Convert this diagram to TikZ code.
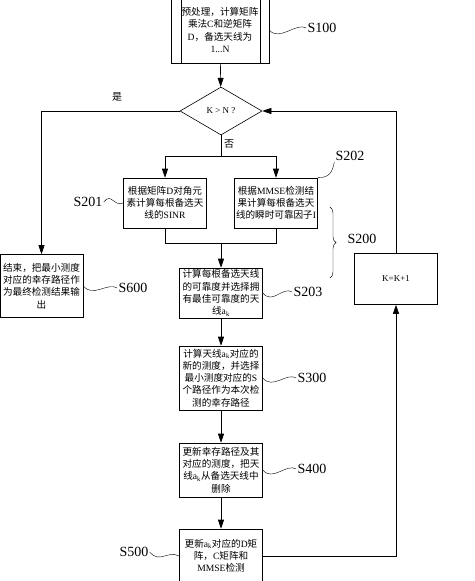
\documentclass[tikz,border=0pt]{standalone}
\usepackage{fontspec}
\setmainfont{Liberation Serif}
\newfontfamily\cjk{Noto Sans CJK SC}
\usetikzlibrary{arrows.meta,shapes.geometric,decorations.pathreplacing}
\newcommand\en[1]{{\rmfamily #1}}
\newcommand\ak{\en{a\textsubscript{k}}}
\tikzset{
    stepbox/.style={draw, rectangle, align=center, inner sep=1.5pt, minimum width=83pt,
        font=\cjk\fontsize{9.6}{12.3}\selectfont},
    tag/.style={font=\fontsize{14}{14}\selectfont, inner sep=1pt},
    word/.style={font=\cjk\fontsize{10}{10}\selectfont, inner sep=1pt},
}
\begin{document}
\begin{tikzpicture}[x=1pt, y=-1pt, line width=0.6pt, >={Triangle[length=9pt,width=6pt]}]
        \useasboundingbox (0,0) rectangle (474,581);
        % Process boxes
        \node[stepbox, minimum width=98pt, minimum height=66pt] (s100) at (220,30)
            {预处理，计算矩阵\\乘法\en{C}和逆矩阵\\\en{D}，备选天线为\\\en{1...N}};
        \draw ([xshift=11pt]s100.north west) -- ([xshift=11pt]s100.south west);
        \draw ([xshift=-9pt]s100.north east) -- ([xshift=-9pt]s100.south east);
        \node[diamond, draw, minimum width=82pt, minimum height=48pt, inner sep=0pt,
            font=\fontsize{9}{9}\selectfont] (cond) at (221,111) {K > N ?};
        \node[stepbox, minimum height=50pt] (s201) at (165,203)
            {根据矩阵\en{D}对角元\\素计算每根备选天\\线的\en{SINR}};
        \node[stepbox, minimum height=50pt] (s202) at (276,203)
            {根据\en{MMSE}检测结\\果计算每根备选天\\线的瞬时可靠因子\en{I}};
        \node[stepbox, minimum height=50pt] (s203) at (221,293)
            {计算每根备选天线\\的可靠度并选择拥\\有最佳可靠度的天\\线\ak};
        \node[stepbox, minimum height=64pt] (s300) at (221,378)
            {计算天线\ak 对应的\\新的测度，并选择\\最小测度对应的\en{S}\\个路径作为本次检\\测的幸存路径};
        \node[stepbox, minimum height=54pt] (s400) at (221,470)
            {更新幸存路径及其\\对应的测度，把天\\线\ak 从备选天线中\\删除};
        \node[stepbox, minimum height=54pt] (s500) at (221,556)
            {更新\ak 对应的\en{D}矩\\阵，\en{C}矩阵和\\\en{MMSE}检测};
        \node[stepbox, minimum height=63pt] (s600) at (41.5,286)
            {结束，把最小测度\\对应的幸存路径作\\为最终检测结果输\\出};
        \node[stepbox, minimum height=51pt, font=\fontsize{9}{9}\selectfont] (kinc) at (396,279) {K=K+1};

        % Step labels
        \node[tag] (l100) at (322,28) {S100};
        \node[tag] (l201) at (88,202) {S201};
        \node[tag] (l202) at (350,156) {S202};
        \node[tag] (l200) at (362,239) {S200};
        \node[tag] (l203) at (308,292) {S203};
        \node[tag] (l300) at (312,378) {S300};
        \node[tag] (l400) at (312,469) {S400};
        \node[tag] (l500) at (134,552) {S500};
        \node[tag] (l600) at (133,288) {S600};
        \node[word] (yes) at (117,97) {是};
        \node[word] (no) at (229,144) {否};

        % Flow lines
        \draw[->] (s100) -- (cond);
        \draw[->] (cond.west) -| (s600.north);
        \coordinate (split) at (221,156);
        \draw (cond.south) -- (split);
        \draw[->] (split) -| (s201.north);
        \draw[->] (split) -| (s202.north);
        \coordinate (merge) at (221,243);
        \draw (s201.south) |- (merge);
        \draw (s202.south) |- (merge);
        \draw[->] (merge) -- (s203.north);
        \foreach \a/\b in {s203/s300,s300/s400,s400/s500} {
            \draw[->] (\a) -- (\b);
        }
        \draw[->] (s500.east) -| (kinc.south);
        \draw[->] (kinc.north) |- (cond.east);

        % Wavy leaders to the labels
        \draw[line width=0.4pt] (s100.east) .. controls +(10,12) and +(-10,-6) .. (l100.west);
        \draw[line width=0.4pt] (s202.north east) .. controls +(12,0) and +(-2,10) .. (l202.south west);
        \draw[line width=0.4pt] (l201.east) .. controls +(8,-10) and +(-10,4) .. (s201.west);
        \draw[line width=0.4pt] (s203.east) .. controls +(10,12) and +(-10,-6) .. (l203.west);
        \draw[line width=0.4pt] (s300.east) .. controls +(10,12) and +(-10,-6) .. (l300.west);
        \draw[line width=0.4pt] (s400.east) .. controls +(10,12) and +(-10,-6) .. (l400.west);
        \draw[line width=0.4pt] (l500.east) .. controls +(10,12) and +(-12,-6) .. (s500.west);
        \draw[line width=0.4pt] (s600.east) .. controls +(10,12) and +(-10,-6) .. (l600.west);
        % Brace grouping S201 and S202
        \coordinate (b200a) at (330,207);
        \coordinate (b200b) at (330,278);
        \draw[line width=0.4pt, decorate, decoration={brace, amplitude=6pt}] (b200a) -- (b200b);
    \end{tikzpicture}
\end{document}
